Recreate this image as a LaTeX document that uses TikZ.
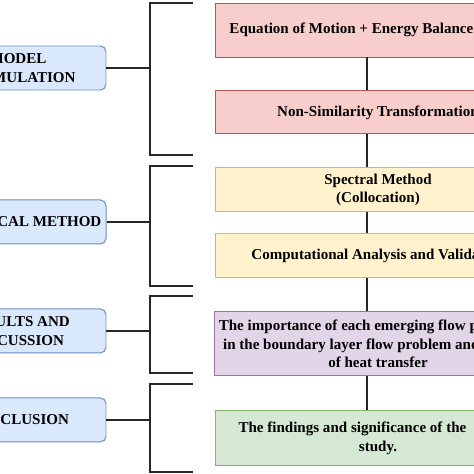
\documentclass[tikz,border=0pt]{standalone}
\usepackage{fontspec}
\setmainfont{Liberation Serif}
\usetikzlibrary{positioning}
\definecolor{phasefill}{HTML}{DAE8FC}
\definecolor{phaseline}{HTML}{6C8EBF}
\definecolor{redfill}{HTML}{F8CECC}
\definecolor{redline}{HTML}{B85450}
\definecolor{yelfill}{HTML}{FFF2CC}
\definecolor{yelline}{HTML}{D6B656}
\definecolor{purfill}{HTML}{E1D5E7}
\definecolor{purline}{HTML}{9673A6}
\definecolor{grnfill}{HTML}{D5E8D4}
\definecolor{grnline}{HTML}{82B366}

\begin{document}
\begin{tikzpicture}[
  phase/.style={draw=phaseline,fill=phasefill,rounded corners=4pt,line width=0.7pt,minimum width=4.4cm,minimum height=1.1cm,align=center,font=\bfseries\fontsize{10.7}{13}\selectfont},
  task/.style={line width=0.7pt,minimum width=8.15cm,align=center,font=\bfseries\fontsize{10.7}{13}\selectfont},
  link/.style={line width=1.4pt,draw=black!85},
  brace/.style={line width=1.8pt,draw=black!85}]
% frame
\useasboundingbox (0,0) rectangle (11.85,-11.85);
\clip (0,0) rectangle (11.85,-11.85);

% Stages
\node[phase] (MF) at (0.45,-1.7) {MODEL\\FORMULATION};
\node[phase, below=2.725 of MF] (NM) {NUMERICAL METHOD};
\node[phase, below=1.6 of NM] (RD) {RESULTS AND\\DISCUSSION};
\node[phase, below=1.1 of RD] (CO) {CONCLUSION};

% Steps
\node[task, draw=redline, fill=redfill, minimum height=1.35cm] (EQ) at (9.45,-0.75) {Equation of Motion + Energy Balance\rule{1.33cm}{0pt}};
\node[task, draw=redline, fill=redfill, minimum height=1.075cm, below=0.825 of EQ] (NST) {Non-Similarity Transformation};
\node[task, draw=yelline, fill=yelfill, minimum height=1.1cm, below=0.825 of NST] (SM) {Spectral Method\\(Collocation)};
\node[task, draw=yelline, fill=yelfill, minimum height=1.1cm, below=0.525 of SM] (CAV) {Computational Analysis and Validation};
\node[task, draw=purline, fill=purfill, minimum height=1.6cm, below=0.825 of CAV] (IMP) {The importance of each emerging flow parameter\\in the boundary layer flow problem and\hphantom{ the rate}\\of heat transfer};
\node[task, draw=grnline, fill=grnfill, minimum height=1.375cm, below=0.85 of IMP] (FND) {The findings and significance of the\hphantom{ present}\\study.};

% Brackets
\coordinate (hub) at (3.75,0);
\coordinate (spine) at (9.175,0);
\foreach \t/\b in {-0.075/-3.875,-4.15/-7.15,-7.4/-9.325,-9.6/-11.8}
  \draw[brace] (4.825,\t) -| (3.75,\b) -- (4.825,\b);
\foreach \s in {MF,NM,RD,CO}
  \draw[link] (\s.east) -- (\s.east -| hub);

% Lines
\foreach \a/\b in {EQ/NST,NST/SM,SM/CAV,CAV/IMP,IMP/FND}
  \draw[link] (\a.south -| spine) -- (\b.north -| spine);
\end{tikzpicture}
\end{document}
